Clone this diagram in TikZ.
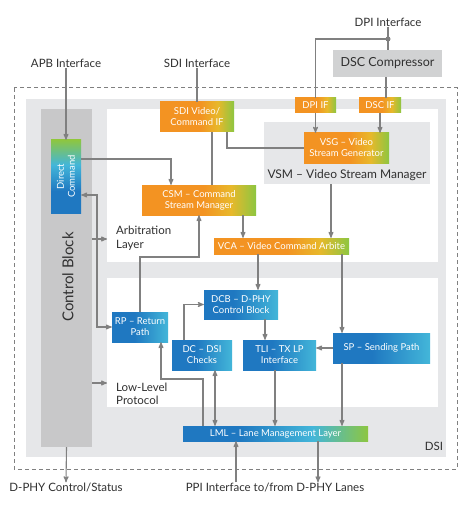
\documentclass[tikz,border=0pt]{standalone}
\usepackage{fontspec}
\setmainfont{Lato}
\usetikzlibrary{arrows,positioning,calc}

\definecolor{dwOrange}{HTML}{F39322}
\definecolor{dwYellow}{HTML}{E8B82B}
\definecolor{dwGreen}{HTML}{8DC641}
\definecolor{dwBlue}{HTML}{1F78C1}
\definecolor{dwCyan}{HTML}{43B6D9}
\definecolor{dwLine}{HTML}{808080}
\definecolor{dwText}{HTML}{303030}
\definecolor{dwBack}{HTML}{E6E7E9}
\definecolor{dwCtrl}{HTML}{C8C8C9}
\definecolor{dwDsc}{HTML}{D1D2D3}

\pgfdeclarehorizontalshading{dwog}{100bp}{color(0bp)=(dwOrange); color(25bp)=(dwOrange); color(52bp)=(dwOrange); color(64bp)=(dwYellow); color(75bp)=(dwGreen); color(100bp)=(dwGreen)}
\pgfdeclarehorizontalshading{dwbc}{100bp}{color(0bp)=(dwBlue); color(25bp)=(dwBlue); color(45bp)=(dwBlue); color(75bp)=(dwCyan); color(100bp)=(dwCyan)}
\pgfdeclarehorizontalshading{dwbg}{100bp}{color(0bp)=(dwBlue); color(25bp)=(dwBlue); color(40bp)=(dwBlue); color(60bp)=(dwCyan); color(75bp)=(dwGreen); color(100bp)=(dwGreen)}
\pgfdeclareverticalshading{dwvert}{100bp}{color(0bp)=(dwBlue); color(25bp)=(dwBlue); color(40bp)=(dwBlue); color(58bp)=(dwCyan); color(75bp)=(dwGreen); color(100bp)=(dwGreen)}

\tikzset{
	blk/.style={inner sep=0pt, align=center, text=white, font=\fontsize{9.5}{11}\selectfont},
	orangeblk/.style={blk, shade, shading=dwog},
	blueblk/.style={blk, shade, shading=dwbc},
	lbl/.style={text=dwText, inner sep=1pt, font=\fontsize{11.5}{13.5}\selectfont},
	wire/.style={draw=dwLine, line width=1.1pt},
}

\begin{document}
\begin{tikzpicture}[x=1pt,y=-1pt,>=stealth']
	\useasboundingbox[fill=white] (0,0) rectangle (474,513);
	% regions
	\draw[dwLine, line width=1pt, dash pattern=on 4pt off 3pt] (14,88) rectangle (457,469);
	\fill[dwBack] (26,99) rectangle (446,457);
	\fill[white] (107,109) rectangle (438,262);
	\fill[white] (107,278) rectangle (438,407);
	\node[fill=dwCtrl, minimum width=51pt, minimum height=338pt, inner sep=0pt] (ctrl) at (66.5,278) {};
	\node[rotate=90, text=dwText, font=\fontsize{15}{18}\selectfont] at (68,277) {Control Block};
	\node[fill=dwBack, minimum width=166pt, minimum height=62pt, inner sep=0pt] (vsm) at (347,153) {};
	\node[lbl, font=\fontsize{12}{14}\selectfont] (vsmtxt) at (347,175) {VSM – Video Stream Manager};
	\node[lbl] (dsitxt) at (434,446) {DSI};
	\node[lbl, anchor=west, align=left] (arbtxt) at (115,238) {Arbitration\\Layer};
	\node[lbl, anchor=west, align=left] (llptxt) at (115,394) {Low-Level\\Protocol};
	% interface labels
	\node[lbl] (apbtxt) at (66,63) {APB Interface};
	\node[lbl] (sditxt) at (197,63) {SDI Interface};
	\node[lbl] (dpitxt) at (388,22) {DPI Interface};
	\node[lbl] (dphytxt) at (66,488) {D-PHY Control/Status};
	\node[lbl] (ppitxt) at (275,488) {PPI Interface to/from D-PHY Lanes};
	\coordinate (dot) at (388,39);
	\coordinate (arbin) at (107,239);
	\coordinate (llpin) at (107,383);
	% blocks
	\node[fill=dwDsc, minimum width=109pt, minimum height=27pt, inner sep=0pt, text=dwText, font=\fontsize{12.5}{15}\selectfont] (dsc) at (387.5,63.5) {DSC Compressor};
	\node[orangeblk, minimum width=74pt, minimum height=30pt] (sdi) at (197,117) {SDI Video/\\Command IF};
	\node[orangeblk, minimum width=41pt, minimum height=15pt] (dpi) at (315.5,105.5) {DPI IF};
	\node[orangeblk, minimum width=42pt, minimum height=15pt] (dscif) at (380,105.5) {DSC IF};
	\node[orangeblk, minimum width=85pt, minimum height=30pt] (vsg) at (346.5,148) {VSG – Video\\Stream Generator};
	\node[blk, shade, shading=dwvert, minimum width=30pt, minimum height=73pt] (dircmd) at (66,176.5) {};
	\node[blk, rotate=90] at (dircmd) {Direct\\Command};
	\node[orangeblk, minimum width=114pt, minimum height=30pt] (csm) at (199,200) {CSM – Command\\Stream Manager};
	\node[orangeblk, minimum width=135pt, minimum height=16pt] (vca) at (281.5,246) {VCA – Video Command Arbite};
	\node[blueblk, minimum width=56pt, minimum height=30pt] (rp) at (140,327) {RP – Return\\Path};
	\node[blueblk, minimum width=74pt, minimum height=29pt] (dcb) at (241,304.5) {DCB – D-PHY\\Control Block};
	\node[blueblk, minimum width=60pt, minimum height=30pt] (dc) at (202,355) {DC – DSI\\Checks};
	\node[blueblk, minimum width=73pt, minimum height=30pt] (tli) at (279.5,355) {TLI – TX LP\\Interface};
	\node[blueblk, minimum width=97pt, minimum height=30pt] (sp) at (381.5,348) {SP – Sending Path};
	\node[blk, shade, shading=dwbg, minimum width=185pt, minimum height=15pt] (lml) at (275.5,433.5) {LML – Lane Management Layer};
	% connectors
	\draw[wire,->] (apbtxt.south) -- (dircmd.north);
	\draw[wire] (sditxt.south) -- (sdi.north);
	\draw[wire] (dpitxt.south) -- (dot);
	\fill[dwLine] (dot) circle (2.5pt);
	\draw[wire] (dot) -| (dpi.north);
	\draw[wire] (dot) -- (dsc.north -| dot);
	\draw[wire] (dsc.south -| 386,0) -- (dscif.north -| 386,0);
	\draw[wire,->] (dpi.south) -- (vsg.north -| dpi.south);
	\draw[wire,->] (dscif.south) -- (vsg.north -| dscif.south);
	\draw[wire] (sdi.south -| 227,0) |- (vsg.west);
	\draw[wire] (sdi.south -| 212,0) -- (csm.north -| 212,0);
	\draw[wire,->] (dircmd.east |- 0,159) -| (csm.north -| 171,0);
	\draw[wire,<->] (dircmd.east |- 0,195) -| (rp.west -| 97,0) -- (rp.west);
	\draw[wire,->] (ctrl.east |- arbin) -- (arbin);
	\draw[wire,->] (ctrl.east |- llpin) -- (llpin);
	\draw[wire,->] (csm.south -| 243,0) -- (vca.north -| 243,0);
	\draw[wire,->] (vsm.south -| 331,0) -- (vca.north -| 331,0);
	\draw[wire,->] (rp.north) |- (0,257 -| csm.south) -- (csm.south);
	\draw[wire,->] (vca.south -| 258,0) -- (dcb.north -| 258,0);
	\draw[wire,->] (vca.south -| 342,0) -- (sp.north -| 342,0);
	\draw[wire,->] (dcb.south -| 265,0) -- (tli.north -| 265,0);
	\draw[wire,->] (dc.north -| 184,0) |- (dcb.west);
	\draw[wire,->] (sp.west) -- (sp.west -| tli.east);
	\draw[wire,->] (tli.south -| 275,0) -- (lml.north -| 275,0);
	\draw[wire,->] (sp.south -| 342,0) -- (lml.north -| 342,0);
	\draw[wire,<->] (dc.south -| 215,0) -- (lml.north -| 215,0);
	\draw[wire,->] (lml.north -| 203,0) |- (161,379) -- (rp.south -| 161,0);
	\draw[wire,->] (ppitxt.north -| 236,0) -- (lml.south -| 236,0);
	\draw[wire,->] (lml.south -| 318,0) -- (ppitxt.north -| 318,0);
	\draw[wire,->] (ctrl.south) -- (dphytxt.north);
\end{tikzpicture}
\end{document}
